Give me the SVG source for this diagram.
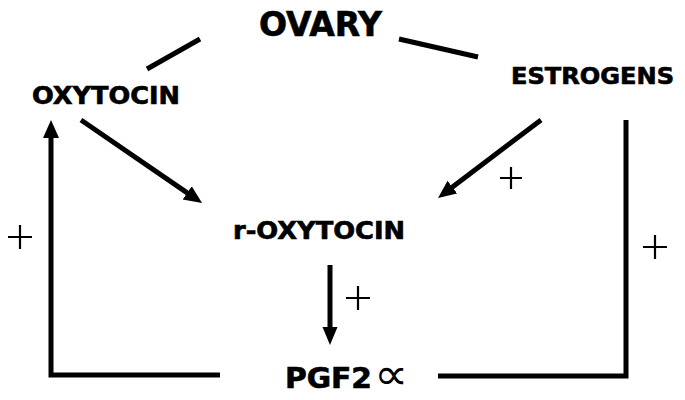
<svg xmlns="http://www.w3.org/2000/svg" width="685" height="400" viewBox="0 0 685 400">
<style>
.t{font-family:"DejaVu Sans Condensed","DejaVu Sans","Liberation Sans",sans-serif;font-weight:bold;fill:#000;stroke:#000;stroke-width:0.6}
.c{stroke:#000;stroke-width:5;fill:none;stroke-linecap:butt}
.pl{stroke:#000;stroke-width:2.2;fill:none}
</style>
<defs>
<marker id="ah" markerUnits="userSpaceOnUse" markerWidth="20" markerHeight="18" refX="4" refY="8" orient="auto">
<path d="M0,0 L18,8 L0,16 z" fill="#000"/>
</marker>
<marker id="ahs" markerUnits="userSpaceOnUse" markerWidth="20" markerHeight="18" refX="4" refY="7.5" orient="auto">
<path d="M0,0 L18,7.5 L0,15 z" fill="#000"/>
</marker>
</defs>
<rect width="685" height="400" fill="#fff"/>
<g id="ovary"><text class="t" x="320.5" y="36" font-size="33.5" text-anchor="middle" textLength="123" lengthAdjust="spacingAndGlyphs">OVARY</text></g>
<g id="oxytocin"><text class="t" x="32" y="104" font-size="24" textLength="148" lengthAdjust="spacingAndGlyphs">OXYTOCIN</text></g>
<g id="estrogens"><text class="t" x="511" y="84" font-size="23" textLength="163" lengthAdjust="spacingAndGlyphs">ESTROGENS</text></g>
<g id="r-oxytocin"><text class="t" x="233" y="239" font-size="24" textLength="172" lengthAdjust="spacingAndGlyphs">r-OXYTOCIN</text></g>
<g id="pgf2a"><text class="t" x="285" y="388" font-size="28.5"><tspan textLength="87" lengthAdjust="spacingAndGlyphs">PGF2</tspan></text><text transform="translate(374,389) scale(1.6,1.45)" x="0" y="0" font-family="DejaVu Sans,sans-serif" font-size="30" fill="#000">∝</text></g>
<g id="connectors">
<line class="c" x1="147" y1="69" x2="200" y2="39"/>
<line class="c" x1="399" y1="39" x2="478" y2="57"/>
<line class="c" x1="81" y1="120" x2="190.5" y2="195.1" marker-end="url(#ah)"/>
<line class="c" x1="541" y1="120" x2="449.2" y2="189.5" marker-end="url(#ah)"/>
<line class="c" stroke-width="4" x1="330" y1="265" x2="330" y2="331" marker-end="url(#ahs)"/>
<polyline class="c" points="220,375 51,375 51,134" marker-end="url(#ah)"/>
<polyline class="c" points="438,376 626,376 626,120"/>
</g>
<g id="plus-signs">
<path class="pl" d="M8,237 H32 M20,225 V249"/>
<path class="pl" d="M500,178 H522 M511,167 V189"/>
<path class="pl" d="M346,298 H370 M358,286 V310"/>
<path class="pl" d="M643,247 H667 M655,235 V259"/>
</g>
</svg>
